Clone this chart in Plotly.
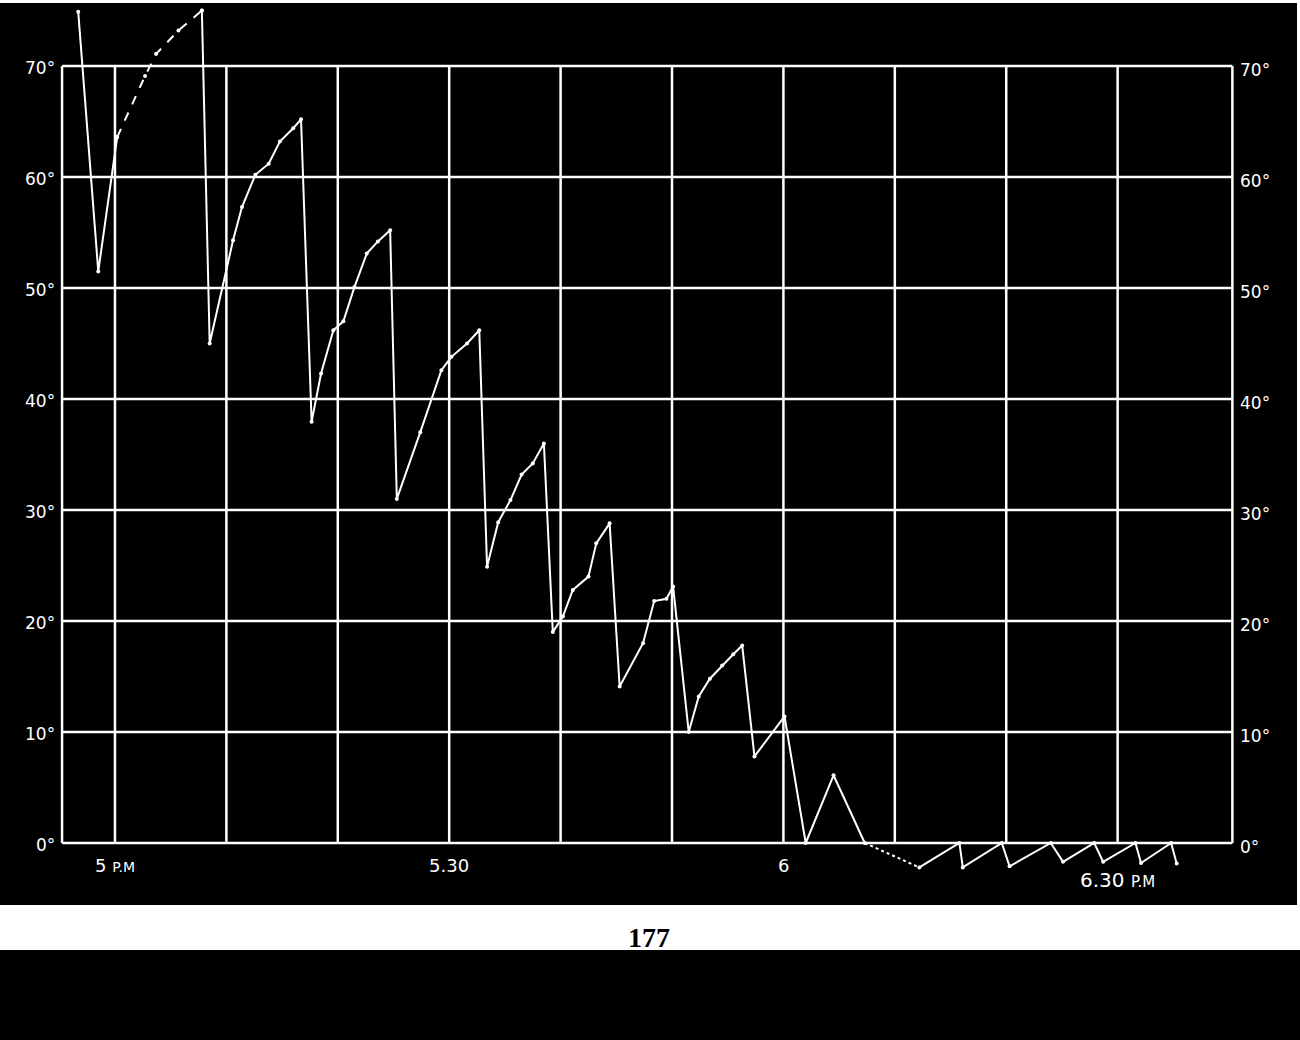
import plotly.graph_objects as go

# Time in minutes after 5 P.M. and temperature in degrees
drop_min = [-3.3, -1.5, 0.2]
drop_temp = [74.9, 51.5, 63.6]

rise_min = [0.2, 2.7, 3.7, 5.7, 7.8]
rise_temp = [63.6, 69.1, 71.1, 73.2, 75.0]

main_min = [7.8, 8.5, 10.6, 11.4, 12.6, 13.8, 14.8, 16.0, 16.7,
            17.65, 18.5, 19.6, 20.5, 21.5, 22.6, 23.6, 24.7,
            25.3, 27.4, 29.3, 30.2, 31.6, 32.7,
            33.4, 34.4, 35.5, 36.5, 37.5, 38.5,
            39.3, 40.2, 41.1, 42.5, 43.2, 44.4,
            45.3, 47.4, 48.4, 49.5, 50.1,
            51.5, 52.4, 53.4, 54.5, 55.5, 56.3,
            57.4, 60.1, 62.0, 64.5, 67.3]
main_temp = [75.0, 45.0, 54.3, 57.3, 60.2, 61.2, 63.2, 64.4, 65.2,
             37.95, 42.3, 46.2, 47.0, 50.1, 53.1, 54.2, 55.2,
             31.0, 37.0, 42.6, 43.8, 45.0, 46.2,
             24.9, 28.9, 30.9, 33.2, 34.2, 36.0,
             19.0, 20.4, 22.8, 24.0, 27.0, 28.8,
             14.1, 18.0, 21.8, 22.0, 23.1,
             10.0, 13.2, 14.8, 16.0, 17.0, 17.8,
             7.8, 11.4, 0.0, 6.1, 0.0]

dot_min = [67.3, 72.2]
dot_temp = [0.0, -2.2]

zig_min = [72.2, 75.8, 76.1, 79.6, 80.3, 84.0, 85.1, 87.9, 88.7, 91.6, 92.1, 94.8, 95.3]
zig_temp = [-2.2, 0.0, -2.2, 0.0, -2.1, 0.0, -1.7, 0.0, -1.7, 0.0, -1.8, 0.0, -1.85]

grid_minutes = [0, 10, 20, 30, 40, 50, 60, 70, 80, 90]
grid_degrees = [0, 10, 20, 30, 40, 50, 60, 70]
degree_labels = ["0°", "10°", "20°", "30°", "40°", "50°", "60°", "70°"]
time_ticks = [0, 30, 60, 90]
time_labels = ["5 <span style='font-size:14px'>P.M</span>", "5.30", "6",
               "6.30 <span style='font-size:15px'>P.M</span>"]
time_label_shift = [-22, -22, -22, -37]

FRAME_X0 = -4.75
FRAME_X1 = 100.3

WHITE = "#ffffff"
FONT = "DejaVu Sans"

fig = go.Figure()

line_style = dict(color=WHITE, width=2)
marker_style = dict(color=WHITE, size=4)

fig.add_trace(go.Scatter(x=drop_min, y=drop_temp, mode="lines+markers",
                         line=line_style, marker=marker_style, showlegend=False, hoverinfo="skip"))
fig.add_trace(go.Scatter(x=rise_min, y=rise_temp, mode="lines+markers",
                         line=dict(color=WHITE, width=2, dash="dash"), marker=marker_style,
                         showlegend=False, hoverinfo="skip"))
fig.add_trace(go.Scatter(x=main_min, y=main_temp, mode="lines+markers",
                         line=line_style, marker=marker_style, showlegend=False, hoverinfo="skip"))
fig.add_trace(go.Scatter(x=dot_min, y=dot_temp, mode="lines",
                         line=dict(color=WHITE, width=2, dash="dot"), showlegend=False, hoverinfo="skip"))
fig.add_trace(go.Scatter(x=zig_min, y=zig_temp, mode="lines+markers",
                         line=line_style, marker=marker_style, showlegend=False, hoverinfo="skip"))

shapes = []
# horizontal grid lines
for d in grid_degrees:
    shapes.append(dict(type="line", xref="x", yref="y", x0=FRAME_X0, x1=FRAME_X1, y0=d, y1=d,
                       line=dict(color=WHITE, width=2.5), layer="below"))
# vertical grid lines
for m in grid_minutes:
    shapes.append(dict(type="line", xref="x", yref="y", x0=m, x1=m, y0=min(grid_degrees), y1=max(grid_degrees),
                       line=dict(color=WHITE, width=2.5), layer="below"))
# frame sides
for fx in (FRAME_X0, FRAME_X1):
    shapes.append(dict(type="line", xref="x", yref="y", x0=fx, x1=fx, y0=min(grid_degrees), y1=max(grid_degrees),
                       line=dict(color=WHITE, width=2.5), layer="below"))
# bottom black band of the page
shapes.append(dict(type="rect", xref="paper", yref="paper", x0=-0.01, x1=1.01, y0=-0.16, y1=-0.0499,
                   fillcolor="#000000", line=dict(width=0), layer="above"))

annotations = []
for d, lab in zip(grid_degrees, degree_labels):
    annotations.append(dict(x=FRAME_X0, y=d, xref="x", yref="y", text=lab, showarrow=False,
                            xanchor="right", yanchor="middle", xshift=-5, yshift=-2,
                            font=dict(family=FONT, size=17, color=WHITE)))
    annotations.append(dict(x=FRAME_X1, y=d, xref="x", yref="y", text=lab, showarrow=False,
                            xanchor="left", yanchor="middle", xshift=6, yshift=-4,
                            font=dict(family=FONT, size=17, color=WHITE)))
for t, lab, sh in zip(time_ticks, time_labels, time_label_shift):
    annotations.append(dict(x=t, y=0, xref="x", yref="y", text=lab, showarrow=False,
                            xanchor="center", yanchor="middle", yshift=sh,
                            font=dict(family=FONT, size=18 if t != 90 else 20, color=WHITE)))
annotations.append(dict(x=649 / 1297, y=-0.0355, xref="paper", yref="paper", text="<b>177</b>",
                        showarrow=False, xanchor="center", yanchor="middle",
                        font=dict(family="Liberation Serif", size=28, color="#000000")))

fig.update_layout(
    width=1300, height=1040,
    margin=dict(l=0, r=3, t=3, b=135, pad=0),
    paper_bgcolor=WHITE, plot_bgcolor="#000000",
    xaxis=dict(range=[-10.32, 106.10], visible=False, fixedrange=True),
    yaxis=dict(range=[-5.586, 75.68], visible=False, fixedrange=True),
    shapes=shapes, annotations=annotations, showlegend=False,
)

fig.write_html("out.html",
               config={"displayModeBar": False},
               post_script="document.body.style.margin='0px';document.body.style.overflow='hidden';")
